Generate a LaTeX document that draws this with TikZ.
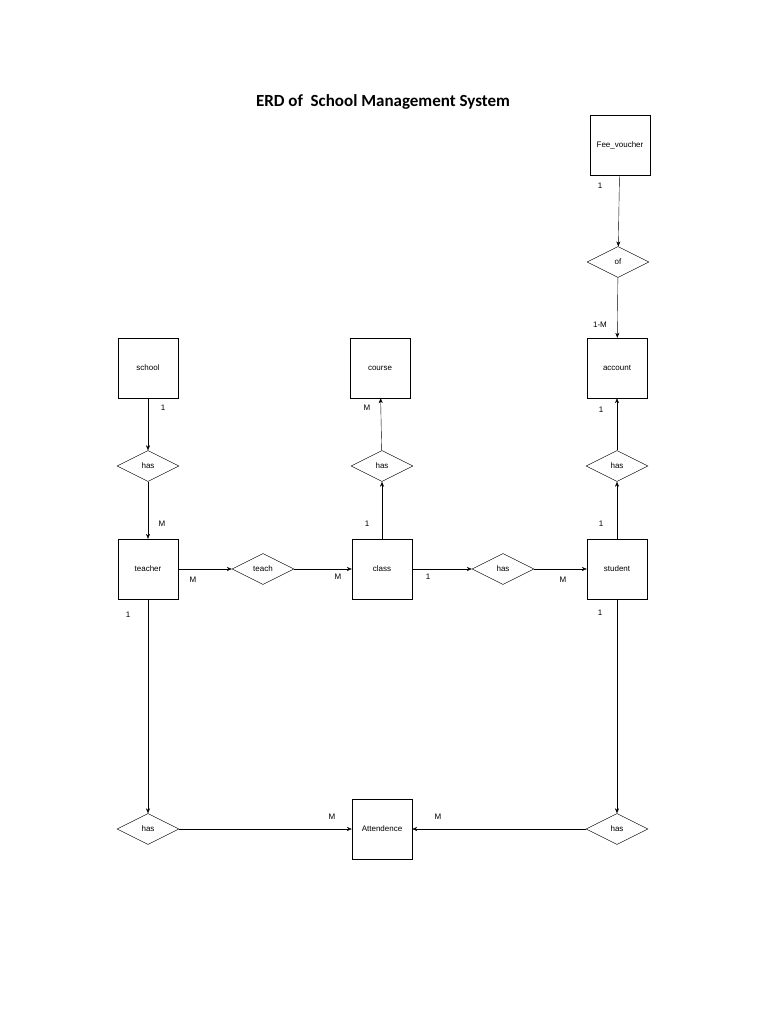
\documentclass[tikz,border=0pt]{standalone}
\usepackage{fontspec}
\setmainfont{Liberation Sans}
\newfontfamily\titlefont{Carlito}
\usetikzlibrary{shapes.geometric,arrows.meta}
\begin{document}
\begin{tikzpicture}[x=1pt,y=-1pt,
  ent/.style={draw,thin,minimum width=60pt,minimum height=60pt,inner sep=0pt,font=\fontsize{8}{9}\selectfont},
  rel/.style={draw,thin,diamond,aspect=2,minimum width=62pt,minimum height=31pt,inner sep=0pt,font=\fontsize{8}{9}\selectfont},
  lab/.style={font=\fontsize{8}{9}\selectfont},
  conn/.style={thin,-{Stealth[length=5pt,width=4pt]}}]
\useasboundingbox (0,0) rectangle (768,1024);
\node[font=\titlefont\bfseries\fontsize{17}{19}\selectfont] (title) at (383,102) {ERD of\ \ School Management System};
\node[ent] (fee) at (620,145) {Fee\_voucher};
\node[ent] (acc) at (617,368) {account};
\node[ent] (school) at (148,368) {school};
\node[ent] (course) at (380,368) {course};
\node[ent] (teacher) at (148,569) {teacher};
\node[ent] (class) at (382,569) {class};
\node[ent] (student) at (617,569) {student};
\node[ent] (att) at (382,829) {Attendence};
\node[rel] (of) at (618,262) {of};
\node[rel] (h1) at (148,466) {has};
\node[rel] (h2) at (382,466) {has};
\node[rel] (h3) at (617,466) {has};
\node[rel] (teach) at (263,569) {teach};
\node[rel] (h4) at (503,569) {has};
\node[rel] (h5) at (148,829) {has};
\node[rel] (h6) at (617,829) {has};
\draw[conn] (fee) -- (of);
\draw[conn] (of) -- (acc);
\draw[conn] (school) -- (h1);
\draw[conn] (h1) -- (teacher);
\draw[conn] (class) -- (h2);
\draw[conn] (h2) -- (course);
\draw[conn] (student) -- (h3);
\draw[conn] (h3) -- (acc);
\draw[conn] (teacher) -- (teach);
\draw[conn] (teach) -- (class);
\draw[conn] (class) -- (h4);
\draw[conn] (h4) -- (student);
\draw[conn] (teacher) -- (h5);
\draw[conn] (h5) -- (att);
\draw[conn] (student) -- (h6);
\draw[conn] (h6) -- (att);
\node[lab] (l1) at (600,186) {1};
\node[lab] (l2) at (600,325) {1-M};
\node[lab] (l3) at (163,408) {1};
\node[lab] (l4) at (162,524) {M};
\node[lab] (l5) at (367,408) {M};
\node[lab] (l6) at (367,524) {1};
\node[lab] (l7) at (601,410) {1};
\node[lab] (l8) at (601,524) {1};
\node[lab] (l9) at (193,580) {M};
\node[lab] (l10) at (338,577) {M};
\node[lab] (l11) at (428,577) {1};
\node[lab] (l12) at (563,580) {M};
\node[lab] (l13) at (128,615) {1};
\node[lab] (l14) at (600,613) {1};
\node[lab] (l15) at (332,817) {M};
\node[lab] (l16) at (438,817) {M};
\end{tikzpicture}
\end{document}
